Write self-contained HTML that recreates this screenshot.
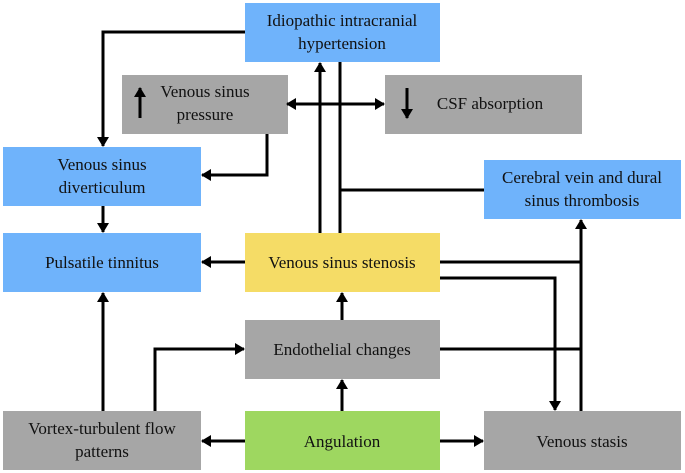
<!DOCTYPE html>
<html><head><meta charset="utf-8"><style>
html,body{margin:0;padding:0;background:#fff}
svg{display:block}
</style></head><body>
<svg width="685" height="473" viewBox="0 0 685 473" xmlns="http://www.w3.org/2000/svg">
<defs>
<marker id="a" markerWidth="12" markerHeight="12" refX="9" refY="6" orient="auto" markerUnits="userSpaceOnUse">
<path d="M0,0 L10,6 L0,12 Z" fill="#000"/>
</marker>
</defs>
<g stroke="none">
<rect x="245" y="3" width="195" height="59" fill="#6fb3fb"/>
<rect x="122" y="75" width="166" height="59" fill="#a6a6a6"/>
<rect x="385" y="75" width="197" height="59" fill="#a6a6a6"/>
<rect x="3" y="147" width="198" height="59" fill="#6fb3fb"/>
<rect x="484" y="160" width="197" height="59" fill="#6fb3fb"/>
<rect x="3" y="233" width="198" height="59" fill="#6fb3fb"/>
<rect x="245" y="233" width="195" height="59" fill="#f5dc66"/>
<rect x="245" y="320" width="195" height="59" fill="#a6a6a6"/>
<rect x="3" y="411" width="198" height="59" fill="#a6a6a6"/>
<rect x="245" y="411" width="195" height="59" fill="#9ed760"/>
<rect x="484" y="411" width="197" height="59" fill="#a6a6a6"/>
</g>
<g stroke="#000" stroke-width="3" fill="none">
<polyline points="245,32 103,32 103,146" marker-end="url(#a)"/>
<line x1="300" y1="104" x2="287" y2="104" marker-end="url(#a)"/>
<line x1="290" y1="104" x2="384" y2="104" marker-end="url(#a)"/>
<polyline points="267,134 267,175 202,175" marker-end="url(#a)"/>
<line x1="103" y1="206" x2="103" y2="232" marker-end="url(#a)"/>
<line x1="320" y1="233" x2="320" y2="63" marker-end="url(#a)"/>
<line x1="340" y1="62" x2="340" y2="233"/>
<line x1="340" y1="190" x2="484" y2="190"/>
<line x1="581" y1="411" x2="581" y2="220" marker-end="url(#a)"/>
<line x1="440" y1="262" x2="581" y2="262"/>
<polyline points="440,278 555,278 555,410" marker-end="url(#a)"/>
<line x1="440" y1="349" x2="581" y2="349"/>
<line x1="245" y1="262" x2="202" y2="262" marker-end="url(#a)"/>
<line x1="342" y1="320" x2="342" y2="293" marker-end="url(#a)"/>
<line x1="103" y1="411" x2="103" y2="293" marker-end="url(#a)"/>
<polyline points="155,411 155,349 244,349" marker-end="url(#a)"/>
<line x1="342" y1="411" x2="342" y2="380" marker-end="url(#a)"/>
<line x1="245" y1="441" x2="202" y2="441" marker-end="url(#a)"/>
<line x1="440" y1="441" x2="483" y2="441" marker-end="url(#a)"/>
<line x1="140" y1="118" x2="140" y2="88" marker-end="url(#a)"/>
<line x1="407" y1="88" x2="407" y2="118" marker-end="url(#a)"/>
</g>
<g font-family="'Liberation Serif', 'DejaVu Serif', serif" font-size="17" fill="#111" text-anchor="middle">
<text x="342" y="26">Idiopathic intracranial</text>
<text x="342" y="49">hypertension</text>
<text x="205" y="97">Venous sinus</text>
<text x="205" y="120">pressure</text>
<text x="490" y="109">CSF absorption</text>
<text x="102" y="170">Venous sinus</text>
<text x="102" y="193">diverticulum</text>
<text x="582" y="183">Cerebral vein and dural</text>
<text x="582" y="206">sinus thrombosis</text>
<text x="102" y="268">Pulsatile tinnitus</text>
<text x="342" y="268">Venous sinus stenosis</text>
<text x="342" y="355">Endothelial changes</text>
<text x="102" y="434">Vortex-turbulent flow</text>
<text x="102" y="457">patterns</text>
<text x="342" y="447">Angulation</text>
<text x="582" y="447">Venous stasis</text>
</g>
</svg>
</body></html>
